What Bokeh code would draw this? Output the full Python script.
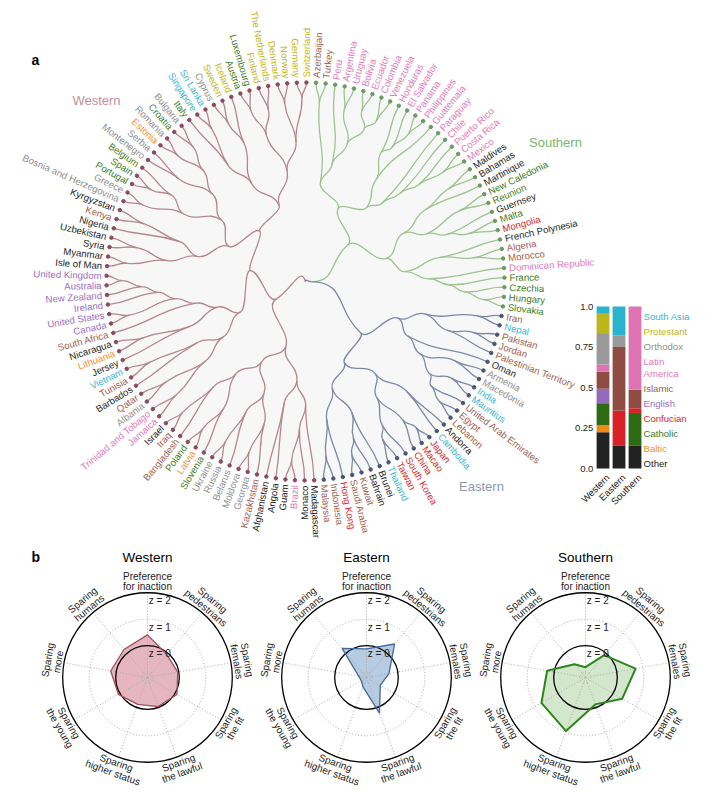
import math
from bokeh.plotting import figure
from bokeh.models import Range1d, ColumnDataSource
from bokeh.core.properties import value
from bokeh.embed import file_html
from bokeh.resources import INLINE

FONT = "Liberation Sans"
PW, PH = 715, 790

# ---------------- data ----------------
western_countries = ["Madagascar", "Monaco", "Brazil", "Guam", "Angola", "Afghanistan", "Kazakhstan", "Georgia",
                     "Moldova", "Belarus", "Russia", "Ukraine", "Slovenia", "Latvia", "Poland", "Bangladesh", "Iraq",
                     "Israel", "Jamaica", "Trinidad and Tobago", "Albania", "Qatar", "Barbados", "Tunisia", "Vietnam",
                     "Jersey", "Lithuania", "Nicaragua", "South Africa", "Canada", "United States", "Ireland",
                     "New Zealand", "Australia", "United Kingdom", "Isle of Man", "Myanmar", "Syria", "Uzbekistan",
                     "Nigeria", "Kenya", "Kyrgyzstan", "Bosnia and Herzegovina", "Greece", "Portugal", "Spain",
                     "Belgium", "Montenegro", "Serbia", "Estonia", "Romania", "Croatia", "Bulgaria", "Italy",
                     "Singapore", "Sri Lanka", "Cyprus", "Sweden", "Iceland", "Austria", "Luxembourg", "Finland",
                     "The Netherlands", "Denmark", "Norway", "Germany", "Switzerland"]
western_culture = ["OT", "OT", "LA", "OT", "OT", "OT", "IS", "OR",
                   "OR", "OR", "OR", "OR", "CA", "BA", "CA", "IS", "IS",
                   "OT", "LA", "LA", "OR", "IS", "OT", "IS", "SA",
                   "OT", "BA", "OT", "IS", "EN", "EN", "EN",
                   "EN", "EN", "EN", "OT", "OT", "OT", "OT",
                   "OT", "IS", "OT", "OR", "OR", "CA", "CA",
                   "CA", "OR", "OR", "BA", "OR", "CA", "OR", "CA",
                   "SA", "SA", "OR", "PR", "PR", "CA", "CA", "PR",
                   "PR", "PR", "PR", "PR", "PR"]
southern_countries = ["Azerbaijan", "Turkey", "Peru", "Argentina", "Uruguay", "Bolivia", "Ecuador", "Colombia",
                      "Venezuela", "Honduras", "El Salvador", "Panama", "Philippines", "Guatemala", "Paraguay",
                      "Chile", "Puerto Rico", "Costa Rica", "Mexico", "Maldives", "Bahamas", "Martinique",
                      "New Caledonia", "Reunion", "Guernsey", "Malta", "Mongolia", "French Polynesia", "Algeria",
                      "Morocco", "Dominican Republic", "France", "Czechia", "Hungary", "Slovakia"]
southern_culture = ["IS", "IS", "LA", "LA", "LA", "LA", "LA", "LA",
                    "LA", "LA", "LA", "LA", "LA", "LA", "LA",
                    "LA", "LA", "LA", "LA", "OT", "OT", "OT",
                    "CA", "CA", "OT", "CA", "CO", "OT", "IS",
                    "IS", "LA", "CA", "CA", "CA", "CA"]
eastern_countries = ["Iran", "Nepal", "Pakistan", "Jordan", "Palestinian Territory", "Oman", "Armenia", "Macedonia",
                     "India", "Mauritius", "United Arab Emirates", "Egypt", "Lebanon", "Andorra", "Cambodia", "Japan",
                     "Macao", "China", "South Korea", "Taiwan", "Thailand", "Brunei", "Bahrain", "Kuwait",
                     "Saudi Arabia", "Hong Kong", "Indonesia", "Malaysia"]
eastern_culture = ["IS", "SA", "IS", "IS", "IS", "OT", "OR", "OR",
                   "SA", "SA", "IS", "IS", "IS", "OT", "SA", "CO",
                   "CO", "CO", "CO", "CO", "SA", "OT", "OT", "IS",
                   "IS", "CO", "IS", "IS"]

# dendrogram topology: [node radius (fraction of leaf radius), child, child, ...]
western_tree = [0.17,
    [0.34,
        [0.5, [0.62, "Madagascar", [0.74, "Monaco", [0.9, "Brazil", "Guam"]]], [0.62, "Angola", "Afghanistan"]],
        [0.46,
            [0.6, [0.74, "Kazakhstan", [0.9, "Georgia", "Moldova"]], [0.72, "Belarus", [0.9, "Russia", "Ukraine"]]],
            [0.58, [0.76, "Slovenia", [0.9, "Latvia", "Poland"]], [0.7, "Bangladesh", [0.9, "Iraq", "Israel"]]]]],
    [0.28,
        [0.36,
            [0.5, [0.64, [0.86, "Jamaica", "Trinidad and Tobago"], [0.86, "Albania", "Qatar"]],
                  [0.62, "Barbados", [0.88, "Tunisia", "Vietnam"]]],
            [0.46, [0.62, "Jersey", [0.86, "Lithuania", "Nicaragua"]],
                   [0.56, "South Africa", [0.66, [0.9, "Canada", "United States"],
                                           [0.74, "Ireland", [0.82, "New Zealand", [0.92, "Australia", "United Kingdom"]]]]]]],
        [0.34,
            [0.42,
                [0.56, [0.7, [0.9, "Isle of Man", "Myanmar"], [0.86, "Syria", "Uzbekistan"]],
                       [0.66, "Nigeria", [0.86, "Kenya", "Kyrgyzstan"]]],
                [0.52, [0.7, [0.9, "Bosnia and Herzegovina", "Greece"], [0.8, [0.9, "Portugal", "Spain"], "Belgium"]],
                       [0.64, [0.82, "Montenegro", "Serbia"], [0.76, [0.9, "Estonia", "Romania"], [0.88, "Croatia", "Bulgaria"]]]]],
            [0.4,
                [0.56, [0.7, "Italy", [0.9, "Singapore", "Sri Lanka"]], [0.76, [0.88, "Cyprus", "Sweden"], "Iceland"]],
                [0.56, [0.76, [0.9, "Austria", "Luxembourg"], [0.88, "Finland", "The Netherlands"]],
                       [0.7, [0.9, "Denmark", "Norway"], [0.92, "Germany", "Switzerland"]]]]]]]
southern_tree = [0.28,
    [0.4,
        [0.5, [0.9, "Azerbaijan", "Turkey"],
              [0.6, "Peru", [0.72, [0.88, "Argentina", "Uruguay"], [0.82, [0.9, "Bolivia", "Ecuador"], [0.88, "Colombia", "Venezuela"]]]]],
        [0.48, [0.62, [0.75, "Honduras", [0.8, "El Salvador", [0.9, "Panama", "Philippines"]]], "Guatemala"],
               [0.55, "Paraguay", [0.65, "Chile", [0.75, "Puerto Rico", [0.88, "Costa Rica", "Mexico"]]]]]],
    [0.42,
        [0.55, [0.7, [0.85, "Maldives", "Bahamas"], "Martinique"],
               [0.65, [0.85, "New Caledonia", "Reunion"], [0.75, "Guernsey", [0.85, "Malta", "Mongolia"]]]],
        [0.5, [0.68, "French Polynesia", [0.85, "Algeria", "Morocco"]],
              [0.62, "Dominican Republic", [0.72, "France", [0.8, "Czechia", [0.9, "Hungary", "Slovakia"]]]]]]]
eastern_tree = [0.38,
    [0.5,
        [0.62, [0.88, "Iran", "Nepal"], [0.75, [0.88, "Pakistan", "Jordan"], "Palestinian Territory"]],
        [0.58, "Oman", [0.68, [0.85, "Armenia", "Macedonia"],
                              [0.78, [0.88, "India", "Mauritius"], [0.82, "United Arab Emirates", [0.9, "Egypt", "Lebanon"]]]]]],
    [0.45,
        [0.58, [0.75, "Andorra", "Cambodia"],
               [0.68, [0.85, [0.92, "Japan", "Macao"], "China"], [0.82, "South Korea", [0.88, "Taiwan", "Thailand"]]]],
        [0.55, [0.7, "Brunei", [0.82, "Bahrain", [0.9, "Kuwait", "Saudi Arabia"]]],
               [0.7, "Hong Kong", [0.88, "Indonesia", "Malaysia"]]]]]
root_radius = 0.0
south_east_radius = 0.03

culture_codes = ["OT", "BA", "CA", "CO", "EN", "IS", "LA", "OR", "PR", "SA"]
culture_names = ["Other", "Baltic", "Catholic", "Confucian", "English", "Islamic", "Latin\nAmerica", "Orthodox",
                 "Protestant", "South Asia"]
culture_bar_colors = ["#222222", "#ef8a17", "#2d6a14", "#d82226", "#9569bb", "#8e4c42", "#de74b4", "#9a9a9a",
                      "#bdb51c", "#2ab3cd"]
culture_text_colors = ["#1e1e1e", "#f0922a", "#3d7a1c", "#d42a2a", "#9a6fc0", "#a0604f", "#e07ab9", "#8f8f8f",
                       "#c2b51a", "#3ab5cc"]

bar_groups = ["Western", "Eastern", "Southern"]
bar_ticks = [0.0, 0.25, 0.5, 0.75, 1.0]
bar_tick_labels = ["0.0", "0.25", "0.5", "0.75", "1.0"]

radar_axes = ["Preference\nfor inaction", "Sparing\npedestrians", "Sparing\nfemales", "Sparing\nthe fit",
              "Sparing\nthe lawful", "Sparing\nhigher status", "Sparing\nthe young", "Sparing\nmore",
              "Sparing\nhumans"]
radar_regions = ["Western", "Eastern", "Southern"]
radar_western = [0.41, -0.07, -0.04, 0.08, -0.03, -0.12, 0.07, 0.21, 0.18]
radar_eastern = [-0.12, 0.45, -0.34, -0.6, 0.23, -0.82, -0.97, -0.9, 0.23]
radar_southern = [-0.81, -0.1, 0.72, 0.4, -0.12, 0.95, 0.72, 0.27, -0.55]
radar_solid_rings = [0, 2]
radar_dotted_rings = [-1, 1]
radar_ring_labels = [0, 1, 2]
radar_z_min = -1.2

# ---------------- figure & scales ----------------
def rng(center_px, px_per_unit, total):
    s = -center_px / px_per_unit
    return Range1d(s, s + total / px_per_unit)

def sx(X):  # page px -> canvas px
    return X

def sy(Y):
    return PH - Y

p = figure(width=PW, height=PH, x_range=Range1d(0, PW), y_range=Range1d(0, PH),
           output_backend="svg", toolbar_location=None, min_border=0,
           x_axis_location=None, y_axis_location=None)
p.grid.visible = False
p.outline_line_color = None
p.background_fill_color = "white"

TREE_R = 199.0
p.extra_x_ranges["dx"] = rng(sx(305), TREE_R, PW)
p.extra_y_ranges["dy"] = rng(sy(281), TREE_R, PH)
p.extra_x_ranges["bx"] = rng(sx(602.5), 16.0, PW)
p.extra_y_ranges["by"] = rng(sy(468), 162.0, PH)
RAD_U = 26.5
radar_centers = [147, 366, 585]
for k, cx in enumerate(radar_centers):
    p.extra_x_ranges[f"r{k}x"] = rng(sx(cx), RAD_U, PW)
    p.extra_y_ranges[f"r{k}y"] = rng(sy(677), RAD_U, PH)

TXT = dict(text_font=value(FONT))

# ---------------- dendrogram ----------------
all_countries = western_countries + southern_countries + eastern_countries
culture_of = dict(zip(western_countries + southern_countries + eastern_countries,
                      western_culture + southern_culture + eastern_culture))
idx = {c: i for i, c in enumerate(all_countries)}
N = len(all_countries)

def ang(t):
    return math.radians(272.5 - t * 360.0 / N)

def pol(t, r):
    a = ang(t)
    return r * math.cos(a), r * math.sin(a)

edges = []
def lay(node, cl):
    if isinstance(node, str):
        return float(idx[node]), 1.0
    r = node[0]
    kids = [lay(c, cl) for c in node[1:]]
    t = sum(k[0] for k in kids) / len(kids)
    for kt, kr in kids:
        edges.append((t, r, kt, kr, cl))
    return t, r

tW, rW = lay(western_tree, "W")
tS, rS = lay(southern_tree, "S")
tE, rE = lay(eastern_tree, "E")
tSE = (tS + tE) / 2
tR = (tW + tSE) / 2
edges.append((tSE, south_east_radius, tS, rS, "S"))
edges.append((tSE, south_east_radius, tE, rE, "E"))
edges.append((tR, root_radius, tW, rW, "W"))
edges.append((tR, root_radius, tSE, south_east_radius, "E"))

line_col = {"W": "#b5878d", "S": "#9dc48f", "E": "#7c89a5"}
dot_col = {"W": "#8a4b5a", "S": "#6d9a62", "E": "#4a5672"}

# pale disc behind tree
p.circle(x=[0], y=[0], radius=1.0, fill_color="#f7f7f7", line_color=None,
         x_range_name="dx", y_range_name="dy")

for cl in ["W", "S", "E"]:
    d = dict(x0=[], y0=[], x1=[], y1=[], cx0=[], cy0=[], cx1=[], cy1=[])
    for (t0, r0, t1, r1, c) in edges:
        if c != cl:
            continue
        rm = (r0 + r1) / 2
        a = pol(t0, r0); b = pol(t1, r1); c0 = pol(t0, rm); c1 = pol(t1, rm)
        d["x0"].append(a[0]); d["y0"].append(a[1]); d["x1"].append(b[0]); d["y1"].append(b[1])
        d["cx0"].append(c0[0]); d["cy0"].append(c0[1]); d["cx1"].append(c1[0]); d["cy1"].append(c1[1])
    p.bezier(x0="x0", y0="y0", x1="x1", y1="y1", cx0="cx0", cy0="cy0", cx1="cx1", cy1="cy1",
             source=ColumnDataSource(d), line_color=line_col[cl], line_width=1.3,
             x_range_name="dx", y_range_name="dy")

# leaves
clusters = ["W"] * len(western_countries) + ["S"] * len(southern_countries) + ["E"] * len(eastern_countries)
lx, ly, lc = [], [], []
left = dict(x=[], y=[], text=[], angle=[], color=[])
right = dict(x=[], y=[], text=[], angle=[], color=[])
for i, c in enumerate(all_countries):
    x, y = pol(i, 1.0)
    lx.append(x); ly.append(y); lc.append(dot_col[clusters[i]])
    th = (272.5 - i * 360.0 / N) % 360
    tx, ty = pol(i, 1.0 + 5.0 / TREE_R)
    col = culture_text_colors[culture_codes.index(culture_of[c])]
    if 90 < th < 270:
        tgt, a = left, th - 180
    else:
        tgt, a = right, (th - 360 if th > 180 else th)
    tgt["x"].append(tx); tgt["y"].append(ty); tgt["text"].append(c)
    tgt["angle"].append(math.radians(a)); tgt["color"].append(col)
p.scatter(x=lx, y=ly, size=3.5, color=lc, x_range_name="dx", y_range_name="dy")
for src, al in [(left, "right"), (right, "left")]:
    p.text(x="x", y="y", text="text", angle="angle", text_color="color", source=ColumnDataSource(src),
           text_align=al, text_baseline="middle", text_font_size="9.6px",
           x_range_name="dx", y_range_name="dy", **TXT)

# cluster names and panel letters
p.text(x=[sx(96), sx(555), sx(481)], y=[sy(100), sy(142), sy(486)], text=["Western", "Southern", "Eastern"],
       text_color=["#c4909a", "#7db56c", "#8d97ab"], text_align="center", text_baseline="middle",
       text_font_size="13px", **TXT)
p.text(x=[sx(31), sx(31)], y=[sy(59), sy(556)], text=["a", "b"], text_align="left", text_baseline="middle",
       text_font_size="14px", text_font_style="bold", text_color="black", **TXT)

# ---------------- stacked bars ----------------
group_cultures = [western_culture, eastern_culture, southern_culture]
for k, cults in enumerate(group_cultures):
    bottom = 0.0
    for j, code in enumerate(culture_codes):
        frac = cults.count(code) / len(cults)
        if frac > 0:
            p.vbar(x=[k], width=0.8, bottom=[bottom], top=[bottom + frac], fill_color=culture_bar_colors[j],
                   line_color=None, x_range_name="bx", y_range_name="by")
        bottom += frac
p.text(x=[-0.6] * len(bar_ticks), y=bar_ticks, text=bar_tick_labels, text_align="right", text_baseline="middle",
       text_font_size="9.5px", text_color="#222", x_range_name="bx", y_range_name="by", **TXT)
p.text(x=[k + 0.3 for k in range(3)], y=[-0.045] * 3, text=bar_groups, angle=math.radians(45),
       text_align="right", text_baseline="middle", text_font_size="9.5px", text_color="#222",
       x_range_name="bx", y_range_name="by", **TXT)
leg_y = [316, 331, 346, 367, 388, 403, 418, 433, 448, 463]
p.text(x=[sx(643)] * 10, y=[sy(v) for v in leg_y], text=culture_names[::-1], text_color=culture_text_colors[::-1],
       text_align="left", text_baseline="middle", text_font_size="9.6px", text_line_height=1.05, **TXT)

# ---------------- radar charts ----------------
radar_vals = [radar_western, radar_eastern, radar_southern]
radar_fill = ["#dc9eab", "#9fb9da", "#c4dfbb"]
radar_edge = ["#a24d5e", "#3f6a9c", "#2c861c"]
radar_ew = [1.3, 1.3, 2.0]
nA = len(radar_axes)
Rout = radar_solid_rings[-1] - radar_z_min
for k in range(3):
    xr, yr = f"r{k}x", f"r{k}y"
    kw = dict(x_range_name=xr, y_range_name=yr)
    angs = [math.radians(90 - 360.0 / nA * j) for j in range(nA)]
    rr = [v - radar_z_min for v in radar_vals[k]]
    px = [r * math.cos(a) for r, a in zip(rr, angs)]
    py = [r * math.sin(a) for r, a in zip(rr, angs)]
    p.patch(px, py, fill_color=radar_fill[k], fill_alpha=0.75, line_color=None, **kw)
    p.segment(x0=[0] * nA, y0=[0] * nA, x1=[Rout * math.cos(a) for a in angs], y1=[Rout * math.sin(a) for a in angs],
              line_color="#aaaaaa", line_dash="1 2", line_width=1, **kw)
    for z in radar_dotted_rings:
        p.circle(x=[0], y=[0], radius=z - radar_z_min, fill_color=None, line_color="#aaaaaa",
                 line_dash="1 2", line_width=1, **kw)
    for z in radar_solid_rings:
        p.circle(x=[0], y=[0], radius=z - radar_z_min, fill_color=None, line_color="black", line_width=1.3, **kw)
    p.patch(px, py, fill_color=None, line_color=radar_edge[k], line_width=radar_ew[k], **kw)
    p.text(x=[0.05] * 3, y=[z - radar_z_min - 0.3 for z in radar_ring_labels],
           text=[f"z = {z}" for z in radar_ring_labels], text_align="left", text_baseline="middle",
           text_font_size="10px", text_color="#222", **kw, **TXT)
    labx, laby, laba = [], [], []
    for j, a in enumerate(angs):
        deg = 90 - 360.0 / nA * j
        deg = (deg + 180) % 360 - 180
        rot = deg - 90 if deg >= 0 else deg + 90
        labx.append(3.62 * math.cos(a)); laby.append(3.62 * math.sin(a)); laba.append(math.radians(rot))
    p.text(x=labx, y=laby, text=radar_axes, angle=laba, text_align="center", text_baseline="middle",
           text_font_size="10px", text_color="#222", text_line_height=0.95, **kw, **TXT)
    p.text(x=[0], y=[4.53], text=[radar_regions[k]], text_align="center", text_baseline="middle",
           text_font_size="13.5px", text_color="black", **kw, **TXT)

open("out.html", "w").write(file_html(p, INLINE))
